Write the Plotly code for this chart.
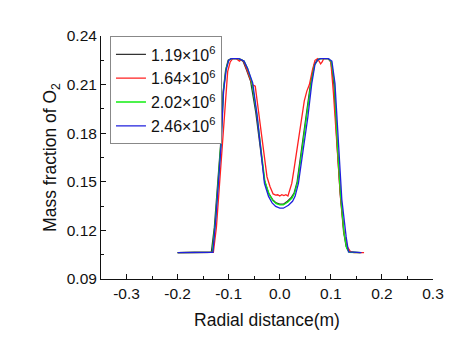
import plotly.graph_objects as go

series_names = ["1.19×10<sup>6</sup>", "1.64×10<sup>6</sup>", "2.02×10<sup>6</sup>", "2.46×10<sup>6</sup>"]
series_colors = ["#333333", "#ff2020", "#10ee10", "#2020dd"]

x_black = [-0.2, -0.134, -0.128, -0.122, -0.116, -0.111, -0.106, -0.101, -0.095, -0.08, -0.072, -0.065,
           -0.057, -0.047, -0.039, -0.030, -0.022, -0.014, -0.007, 0.0, 0.007, 0.015, 0.023, 0.028, 0.034,
           0.043, 0.052, 0.060, 0.067, 0.074, 0.08, 0.095, 0.100, 0.106, 0.112, 0.118, 0.125, 0.130, 0.136, 0.158]
y_black = [0.1063, 0.1065, 0.122, 0.148, 0.172, 0.205, 0.219, 0.225, 0.226, 0.226, 0.2245, 0.219,
           0.212, 0.193, 0.172, 0.151, 0.143, 0.139, 0.137, 0.1362, 0.1362, 0.138, 0.1405, 0.143, 0.150,
           0.170, 0.190, 0.210, 0.222, 0.2255, 0.226, 0.226, 0.224, 0.210, 0.174, 0.144, 0.119, 0.110, 0.1068, 0.1063]

x_red = [-0.2, -0.13, -0.124, -0.118, -0.112, -0.107, -0.102, -0.097, -0.092, -0.085, -0.083, -0.079, -0.075,
         -0.07, -0.064, -0.058, -0.054, -0.048, -0.040, -0.035, -0.030, -0.025, -0.019, -0.013, -0.008,
         -0.004, 0.0, 0.004, 0.008, 0.012, 0.016, 0.020, 0.0235, 0.028, 0.0333, 0.038, 0.043, 0.048, 0.053,
         0.058, 0.064, 0.069, 0.074, 0.077, 0.080, 0.083, 0.086, 0.095, 0.100, 0.105, 0.112, 0.119, 0.126,
         0.132, 0.138, 0.145, 0.165]
y_red = [0.1063, 0.1065, 0.122, 0.148, 0.172, 0.200, 0.218, 0.224, 0.226, 0.226, 0.2255, 0.2245, 0.2255,
         0.224, 0.219, 0.213, 0.210, 0.209, 0.190, 0.178, 0.165, 0.153, 0.147, 0.1425, 0.1418,
         0.142, 0.1412, 0.142, 0.1415, 0.142, 0.1412, 0.145, 0.149, 0.158, 0.1696, 0.180, 0.190, 0.200, 0.206,
         0.210, 0.219, 0.225, 0.226, 0.2245, 0.2228, 0.224, 0.226, 0.226, 0.224, 0.205, 0.172, 0.140, 0.118,
         0.110, 0.107, 0.1063, 0.1063]

x_green = [-0.2, -0.132, -0.126, -0.12, -0.115, -0.11, -0.105, -0.1, -0.095, -0.08, -0.07, -0.063, -0.055,
           -0.045, -0.037, -0.029, -0.021, -0.014, -0.007, 0.0, 0.007, 0.016, 0.024, 0.029, 0.035, 0.044,
           0.053, 0.061, 0.068, 0.075, 0.08, 0.095, 0.101, 0.107, 0.113, 0.119, 0.126, 0.131, 0.136, 0.158]
y_green = [0.1063, 0.1065, 0.126, 0.152, 0.175, 0.207, 0.220, 0.225, 0.226, 0.226, 0.2245, 0.220, 0.212,
           0.192, 0.171, 0.150, 0.1425, 0.1385, 0.1365, 0.1357, 0.1357, 0.1375, 0.140, 0.143, 0.150, 0.170,
           0.190, 0.210, 0.222, 0.2255, 0.226, 0.226, 0.224, 0.211, 0.172, 0.142, 0.118, 0.109, 0.1065, 0.1063]

x_blue = [-0.2, -0.131, -0.125, -0.12, -0.115, -0.11, -0.105, -0.1, -0.095, -0.08, -0.07, -0.063, -0.053,
          -0.044, -0.037, -0.030, -0.022, -0.015, -0.008, 0.0, 0.007, 0.017, 0.025, 0.030, 0.0365, 0.046,
          0.055, 0.0627, 0.069, 0.075, 0.08, 0.095, 0.102, 0.108, 0.115, 0.1215, 0.13, 0.1345, 0.16]
y_blue = [0.1063, 0.1065, 0.128, 0.150, 0.172, 0.206, 0.219, 0.225, 0.226, 0.226, 0.2245, 0.220, 0.211,
          0.190, 0.170, 0.149, 0.141, 0.137, 0.1348, 0.1337, 0.1337, 0.1355, 0.138, 0.141, 0.149, 0.170,
          0.190, 0.2107, 0.2226, 0.2255, 0.226, 0.226, 0.2245, 0.211, 0.170, 0.139, 0.116, 0.1068, 0.1063]

xs = [x_black, x_red, x_green, x_blue]
ys = [y_black, y_red, y_green, y_blue]

font_family = "Liberation Sans, Arial, sans-serif"

fig = go.Figure()
for name, color, x, y in zip(series_names, series_colors, xs, ys):
    fig.add_trace(go.Scatter(x=x, y=y, mode="lines", name=name,
                             line=dict(color=color, width=1.3)))

fig.update_layout(
    width=474, height=355,
    margin=dict(l=93, r=49, t=28, b=84),
    paper_bgcolor="white", plot_bgcolor="white",
    font=dict(family=font_family, size=15.5, color="#111111"),
    showlegend=True,
    legend=dict(x=0.027, y=0.998, xanchor="left", yanchor="top",
                bordercolor="#888888", borderwidth=1, bgcolor="white",
                font=dict(size=16), tracegroupgap=0, itemwidth=30),
)
fig.update_xaxes(
    range=[-0.35, 0.30], tickmode="array", automargin=False,
    tickvals=[-0.3, -0.2, -0.1, 0.0, 0.1, 0.2, 0.3],
    ticktext=["-0.3", "-0.2", "-0.1", "0.0", "0.1", "0.2", "0.3"],
    ticks="inside", ticklen=5, tickcolor="#111111",
    minor=dict(dtick=0.05, tick0=0, ticks="inside", ticklen=3, tickcolor="#111111"),
    showline=True, linecolor="#111111", linewidth=1, showgrid=False, zeroline=False,
    tickfont=dict(size=15.5),
    title=dict(text="Radial distance(m)", font=dict(size=17.5), standoff=13),
)
fig.update_yaxes(
    range=[0.09, 0.24], tickmode="array", automargin=False,
    tickvals=[0.09, 0.12, 0.15, 0.18, 0.21, 0.24],
    ticktext=["0.09", "0.12", "0.15", "0.18", "0.21", "0.24"],
    ticks="inside", ticklen=5, tickcolor="#111111",
    minor=dict(dtick=0.015, tick0=0.09, ticks="inside", ticklen=3, tickcolor="#111111"),
    showline=True, linecolor="#111111", linewidth=1, showgrid=False, zeroline=False,
    tickfont=dict(size=15.5),
    title=dict(text="Mass fraction of O<sub>2</sub>", font=dict(size=17.5), standoff=5),
)

fig.write_html("out.html")
